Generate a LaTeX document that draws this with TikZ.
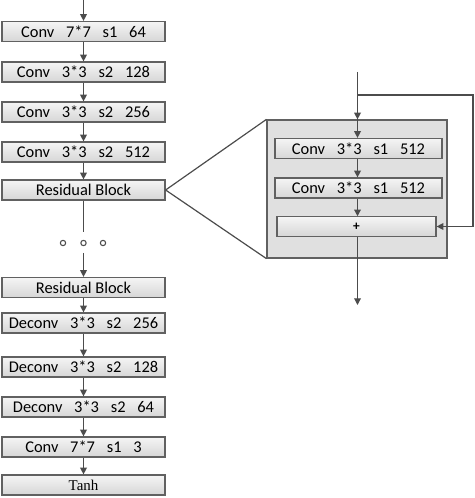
\documentclass[tikz,border=0pt]{standalone}
\usepackage{fontspec}
\setmainfont{Carlito}
\newfontfamily\serifface{Liberation Serif}
\usetikzlibrary{arrows.meta,calc}
\begin{document}
\begin{tikzpicture}[x=0.75pt,y=-0.75pt,
  layer/.style={draw=black!62,line width=0.9pt,top color=white!96!black,bottom color=black!16,
    minimum height=15pt,inner sep=0pt,font=\fontsize{12.3}{14}\selectfont},
  leftbox/.style={layer,minimum width=122.25pt},
  rightbox/.style={layer,minimum width=125.25pt},
  conn/.style={draw=black!70,line width=0.9pt},
  arr/.style={conn,-{Triangle[length=5pt,width=5pt]}},
  dot/.style={circle,draw=black!70,line width=0.8pt,minimum size=4pt,inner sep=0pt}]
\useasboundingbox (0,0) rectangle (474,498);
\newcommand{\sep}{\hspace{0.72em}}
% left column
\coordinate (top) at (83.5,0);
\node[leftbox] (c1) at (83.5,31.5) {Conv\sep 7*7\sep s1\sep 64};
\node[leftbox] (c2) at (83.5,72) {Conv\sep 3*3\sep s2\sep 128};
\node[leftbox] (c3) at (83.5,112) {Conv\sep 3*3\sep s2\sep 256};
\node[leftbox] (c4) at (83.5,152) {Conv\sep 3*3\sep s2\sep 512};
\node[leftbox] (rb1) at (83.5,190) {Residual Block};
\node[dot] (d1) at (63,243) {};
\node[dot] (d2) at (83.5,243) {};
\node[dot] (d3) at (103,243) {};
\coordinate (l1) at (83.5,232);
\coordinate (l2) at (83.5,253);
\node[leftbox] (rb2) at (83.5,287.5) {Residual Block};
\node[leftbox] (dc1) at (83.5,323) {Deconv\sep 3*3\sep s2\sep 256};
\node[leftbox] (dc2) at (83.5,367) {Deconv\sep 3*3\sep s2\sep 128};
\node[leftbox] (dc3) at (83.5,407) {Deconv\sep 3*3\sep s2\sep 64};
\node[leftbox] (c5) at (83.5,447) {Conv\sep 7*7\sep s1\sep 3};
\node[leftbox,font=\serifface\fontsize{11.2}{12}\selectfont] (th) at (83.5,485) {Tanh};
\draw[arr] (top) -- (c1);
\draw[arr] (c1) -- (c2);
\draw[arr] (c2) -- (c3);
\draw[arr] (c3) -- (c4);
\draw[arr] (c4) -- (rb1);
\draw[conn] (rb1) -- (l1);
\draw[arr] (l2) -- (rb2);
\draw[arr] (rb2) -- (dc1);
\draw[arr] (dc1) -- (dc2);
\draw[arr] (dc2) -- (dc3);
\draw[arr] (dc3) -- (c5);
\draw[arr] (c5) -- (th);
% expanded block
\node[draw=black!62,line width=0.9pt,fill=black!12,minimum width=135pt,minimum height=103.5pt,inner sep=0pt] (big) at (357,189) {};
\node[rightbox] (r1) at (358.5,148.5) {Conv\sep 3*3\sep s1\sep 512};
\node[rightbox] (r2) at (358.5,188) {Conv\sep 3*3\sep s1\sep 512};
\node[layer,minimum width=119.25pt,minimum height=14.5pt,font=\bfseries\fontsize{10}{12}\selectfont] (plus) at (356.5,226.5) {+};
\draw[conn] (rb1.east) -- (big.north west);
\draw[conn] (rb1.east) -- (big.south west);
\coordinate (in) at (357.5,72);
\coordinate (br) at (357.5,95);
\coordinate (fr) at (473,95);
\coordinate (out) at (357.5,305);
\draw[arr] (in) -- (in |- big.north);
\draw[arr] (in |- big.north) -- (in |- r1.north);
\draw[arr] (r1.south -| in) -- (r2.north -| in);
\draw[arr] (r2.south -| in) -- (plus.north -| in);
\draw[conn] (plus.south -| in) -- (big.south -| in);
\draw[arr] (big.south -| in) -- (out);
\draw[arr] (br) -- (fr) -- (fr |- plus.east) -- (plus.east);
\end{tikzpicture}
\end{document}
